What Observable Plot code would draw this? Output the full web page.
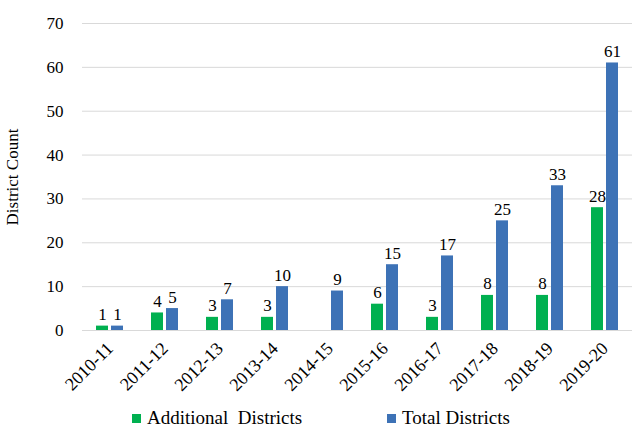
<!DOCTYPE html>
<html>
<head>
<meta charset="utf-8">
<script src="https://cdn.jsdelivr.net/npm/d3@7"></script>
<script src="https://cdn.jsdelivr.net/npm/@observablehq/plot@0.6"></script>
<style>
  html, body { margin: 0; padding: 0; background: #fff; }
  #chart { width: 643px; }
  .legend { position: relative; width: 643px; height: 41px; font-family: 'Liberation Serif', 'Times New Roman', serif; font-size: 19px; color: #000; }
  .legend .item { position: absolute; top: 2px; display: flex; align-items: center; white-space: pre; line-height: 22px; }
  .legend .sw { width: 9px; height: 9px; margin-right: 6px; }
</style>
</head>
<body>
<div id="chart"></div>
<script>
// School years on the x axis
const years = ["2010-11", "2011-12", "2012-13", "2013-14", "2014-15",
               "2015-16", "2016-17", "2017-18", "2018-19", "2019-20"];
// Districts added in each year (none recorded for 2014-15)
const additional = [1, 4, 3, 3, null, 6, 3, 8, 8, 28];
// Cumulative districts in each year
const total = [1, 5, 7, 10, 9, 15, 17, 25, 33, 61];
const seriesNames = ["Additional  Districts", "Total Districts"];
const seriesColors = ["#00b050", "#3d72b6"];
const yTicks = [0, 10, 20, 30, 40, 50, 60, 70];

const rows = [];
years.forEach((year, i) => {
  if (additional[i] != null) rows.push({year, series: seriesNames[0], value: additional[i]});
  if (total[i] != null) rows.push({year, series: seriesNames[1], value: total[i]});
});

const font = "'Liberation Serif', 'Times New Roman', serif";

const chart = Plot.plot({
  width: 643,
  height: 405,
  marginLeft: 80,
  marginRight: 9,
  marginTop: 23,
  marginBottom: 75,
  style: {fontFamily: font, fontSize: "17px", color: "#000", background: "#fff"},
  fx: {domain: years, padding: 0, label: null},
  x: {domain: seriesNames, paddingInner: 0.2, paddingOuter: 0.83, axis: null},
  y: {domain: [0, 70], ticks: yTicks},
  color: {domain: seriesNames, range: seriesColors},
  marks: [
    Plot.ruleY(yTicks, {stroke: "#d9d9d9", strokeWidth: 1}),
    Plot.barY(rows, {fx: "year", x: "series", y: "value", fill: "series"}),
    Plot.text(rows, {fx: "year", x: "series", y: "value", text: d => String(d.value),
      lineAnchor: "bottom", dy: -6, fontSize: 17, fontFamily: font, fill: "#000"}),
    Plot.axisY({ticks: yTicks, tickSize: 0, tickPadding: 19, fontSize: 17, fontFamily: font,
      label: "District Count", labelAnchor: "center", labelArrow: "none", labelOffset: 77}),
    Plot.axisFx({anchor: "bottom", tickRotate: -45, tickSize: 0, tickPadding: 15, fontSize: 18,
      fontFamily: font, label: null})
  ]
});
document.getElementById("chart").appendChild(chart);

// Legend below the chart
const legend = document.createElement("div");
legend.className = "legend";
const legendX = [132, 387];
seriesNames.forEach((name, i) => {
  const item = document.createElement("div");
  item.className = "item";
  item.style.left = legendX[i] + "px";
  const sw = document.createElement("span");
  sw.className = "sw";
  sw.style.background = seriesColors[i];
  const label = document.createElement("span");
  label.textContent = name;
  item.appendChild(sw);
  item.appendChild(label);
  legend.appendChild(item);
});
document.body.appendChild(legend);
</script>
</body>
</html>
